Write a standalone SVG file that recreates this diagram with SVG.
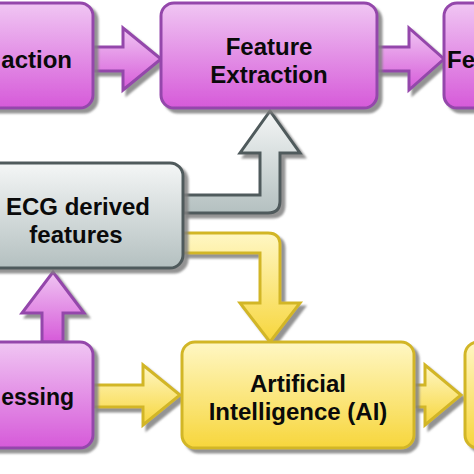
<svg xmlns="http://www.w3.org/2000/svg" width="474" height="474" viewBox="0 0 474 474">
<defs>
<linearGradient id="gp" x1="0" y1="0" x2="0" y2="1"><stop offset="0" stop-color="#f0c6f3"/><stop offset="1" stop-color="#d65ad9"/></linearGradient>
<linearGradient id="gg" x1="0" y1="0" x2="0" y2="1"><stop offset="0" stop-color="#f4f6f6"/><stop offset="1" stop-color="#b4c0c0"/></linearGradient>
<linearGradient id="gy" x1="0" y1="0" x2="0" y2="1"><stop offset="0" stop-color="#fff7c4"/><stop offset="1" stop-color="#f7d63c"/></linearGradient>
<filter id="sh" x="-20%" y="-20%" width="140%" height="140%"><feDropShadow dx="4" dy="4" stdDeviation="1" flood-color="#808080" flood-opacity="0.85"/></filter>
</defs>
<style>
.p{fill:url(#gp);stroke:#9446ab;stroke-width:3;filter:url(#sh)}
.g{fill:url(#gg);stroke:#4f5a5c;stroke-width:3;filter:url(#sh)}
.y{fill:url(#gy);stroke:#d2b628;stroke-width:3;filter:url(#sh)}
text{font-family:"Liberation Sans",Arial,sans-serif;font-weight:bold;font-size:24px;fill:#0a0a0a}
</style>
<rect width="474" height="474" fill="#ffffff"/>
<g id="connectors">
<path class="p" d="M93,47 H123 V28 L161,59 L123,90 V71 H93 Z"/>
<path class="p" d="M377,47 H409 V28 L444,59 L409,90 V71 H377 Z"/>
<path class="g" d="M183,195 H260 V153 H240 L270,111 L300,153 H280 V201 Q280,213 268,213 H183 Z"/>
<path class="y" d="M183,233 H268 Q280,233 280,245 V303 H300 L270,342 L240,303 H260 V253 H183 Z"/>
<path class="p" d="M42,342 V313 H22 L53,272 L84,313 H63 V342 Z"/>
<path class="y" d="M93,385 H143 V365 L180,395 L143,425 V407 H93 Z"/>
<path class="y" d="M414,385 H425 V365 L461,395 L425,425 V407 H414 Z"/>
</g>
<g id="node-extraction">
<rect class="p" x="-20" y="3" width="113" height="105" rx="13"/>
<text x="72" y="68" text-anchor="end">action</text>
</g>
<g id="node-feature-extraction">
<rect class="p" x="161" y="3" width="216" height="105" rx="13"/>
<text x="269" y="55" text-anchor="middle">Feature</text>
<text x="269" y="83" text-anchor="middle">Extraction</text>
</g>
<g id="node-fe">
<rect class="p" x="444" y="3" width="60" height="105" rx="13"/>
<text x="447" y="68">Fe</text>
</g>
<g id="node-ecg">
<rect class="g" x="-20" y="163" width="203" height="105" rx="13"/>
<text x="78" y="215" text-anchor="middle">ECG derived</text>
<text x="76" y="243" text-anchor="middle">features</text>
</g>
<g id="node-processing">
<rect class="p" x="-20" y="342" width="113" height="106" rx="13"/>
<text x="74" y="405" text-anchor="end" style="font-size:23px">essing</text>
</g>
<g id="node-ai">
<rect class="y" x="182" y="342" width="232" height="106" rx="13"/>
<text x="298" y="392" text-anchor="middle">Artificial</text>
<text x="298" y="420" text-anchor="middle">Intelligence (AI)</text>
</g>
<g id="node-right">
<rect class="y" x="465" y="342" width="40" height="106" rx="13"/>
</g>
</svg>
